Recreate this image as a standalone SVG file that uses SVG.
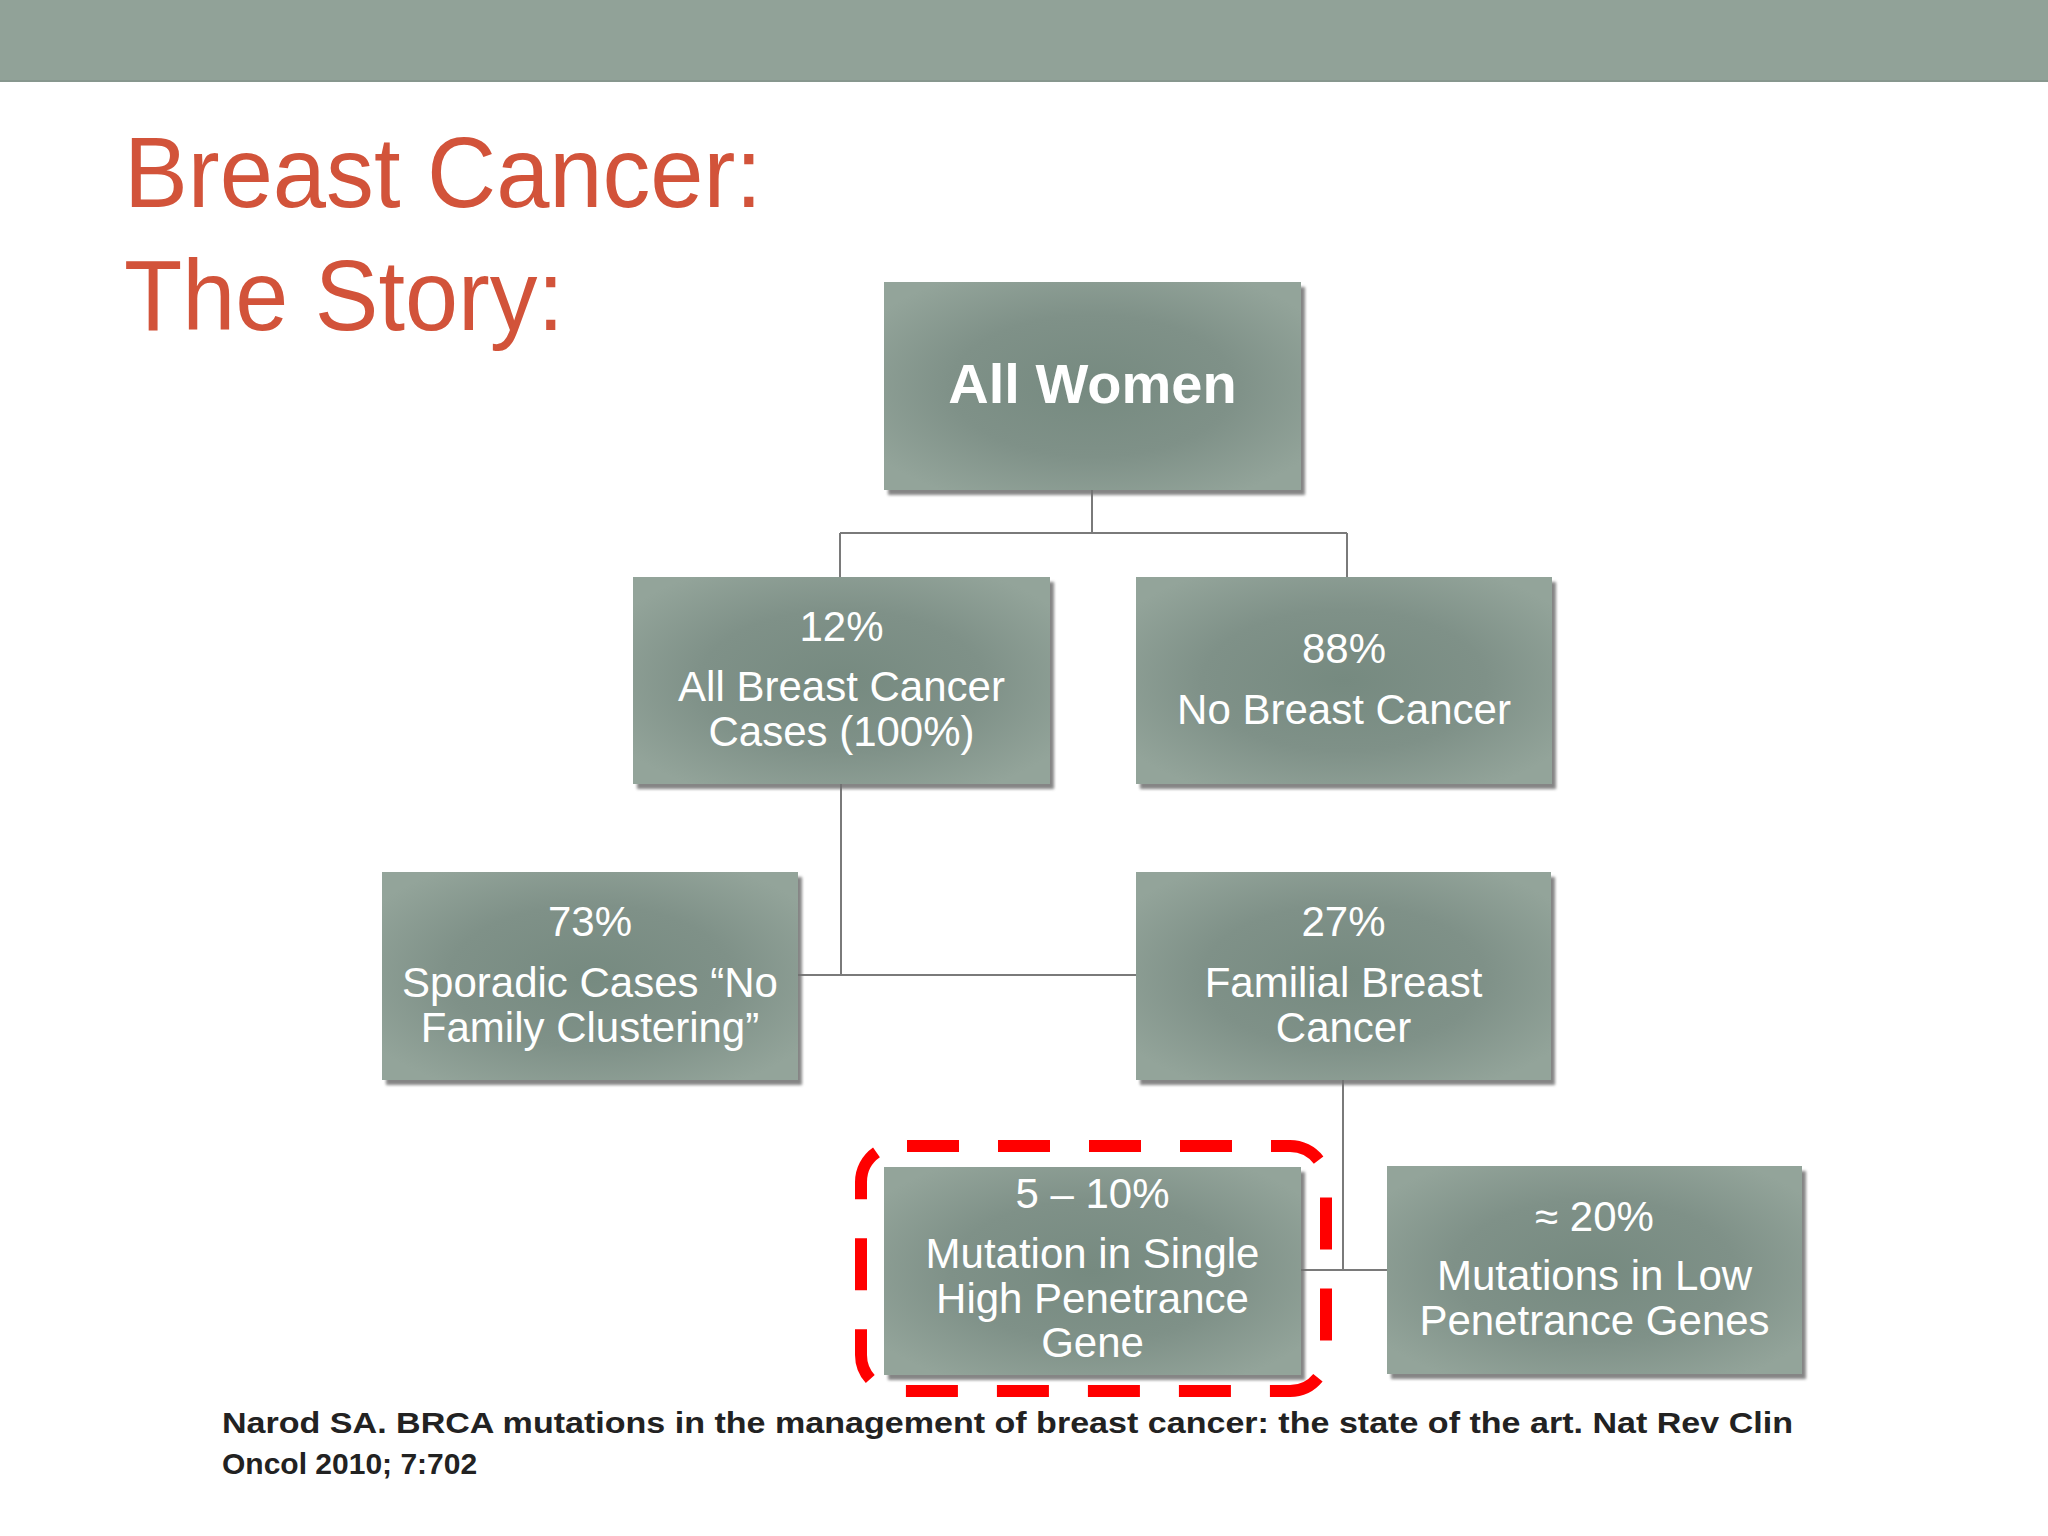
<svg xmlns="http://www.w3.org/2000/svg" width="2048" height="1536" viewBox="0 0 2048 1536">
  <defs>
    <radialGradient id="boxfill" cx="0.5" cy="0.5" r="0.62" fx="0.5" fy="0.5">
      <stop offset="0" stop-color="#768a80"/>
      <stop offset="0.55" stop-color="#7f9188"/>
      <stop offset="1" stop-color="#93a49a"/>
    </radialGradient>
    <filter id="soft" x="-10%" y="-10%" width="120%" height="120%">
      <feGaussianBlur stdDeviation="1.5"/>
    </filter>
  </defs>
  <style>
    .box { fill: url(#boxfill); }
    .shadow { fill: #6f6f6f; opacity: 0.85; filter: url(#soft); }
    .lbl { font-family: "Liberation Sans", Arial, sans-serif; font-size: 42px; fill: #ffffff; text-anchor: middle; }
    .big { font-family: "Liberation Sans", Arial, sans-serif; font-size: 56px; font-weight: bold; fill: #ffffff; text-anchor: middle; }
    .title { font-family: "Liberation Sans", Arial, sans-serif; font-size: 100px; fill: #d2533a; }
    .cite { font-family: "Liberation Sans", Arial, sans-serif; font-size: 30px; font-weight: bold; fill: #222222; }
    .conn { fill: none; stroke: #7a7a7a; stroke-width: 2; }
  </style>

  <rect x="0" y="0" width="2048" height="81" fill="#91a298"/>
  <rect x="0" y="80" width="2048" height="2" fill="#87978e"/>

  <text class="title" x="124" y="207" textLength="638" lengthAdjust="spacingAndGlyphs">Breast Cancer:</text>
  <text class="title" x="124" y="330" textLength="440" lengthAdjust="spacingAndGlyphs">The Story:</text>

  <g id="connectors">
    <path class="conn" d="M1092,490 V533 M840,533 H1347 M840,533 V577 M1347,533 V577"/>
    <path class="conn" d="M841,784 V975 M798,975 H1136"/>
    <path class="conn" d="M1343,1080 V1270 M1301,1270 H1387"/>
  </g>

  <g id="all-women">
    <rect class="shadow" x="888" y="287" width="417" height="208"/>
    <rect class="box" x="884" y="282" width="417" height="208"/>
    <text class="big" x="1092.5" y="403">All Women</text>
  </g>

  <g id="all-breast-cancer">
    <rect class="shadow" x="637" y="582" width="417" height="207"/>
    <rect class="box" x="633" y="577" width="417" height="207"/>
    <text class="lbl" x="841.5" y="641">12%</text>
    <text class="lbl" x="841.5" y="701">All Breast Cancer</text>
    <text class="lbl" x="841.5" y="746">Cases (100%)</text>
  </g>

  <g id="no-breast-cancer">
    <rect class="shadow" x="1140" y="582" width="416" height="207"/>
    <rect class="box" x="1136" y="577" width="416" height="207"/>
    <text class="lbl" x="1344" y="663">88%</text>
    <text class="lbl" x="1344" y="724">No Breast Cancer</text>
  </g>

  <g id="sporadic">
    <rect class="shadow" x="386" y="877" width="416" height="208"/>
    <rect class="box" x="382" y="872" width="416" height="208"/>
    <text class="lbl" x="590" y="936">73%</text>
    <text class="lbl" x="590" y="997">Sporadic Cases “No</text>
    <text class="lbl" x="590" y="1042">Family Clustering”</text>
  </g>

  <g id="familial">
    <rect class="shadow" x="1140" y="877" width="415" height="208"/>
    <rect class="box" x="1136" y="872" width="415" height="208"/>
    <text class="lbl" x="1343.5" y="936">27%</text>
    <text class="lbl" x="1343.5" y="997">Familial Breast</text>
    <text class="lbl" x="1343.5" y="1042">Cancer</text>
  </g>

  <g id="high-penetrance">
    <rect class="shadow" x="888" y="1172" width="417" height="208"/>
    <rect class="box" x="884" y="1167" width="417" height="208"/>
    <text class="lbl" x="1092.5" y="1208">5 – 10%</text>
    <text class="lbl" x="1092.5" y="1268">Mutation in Single</text>
    <text class="lbl" x="1092.5" y="1313">High Penetrance</text>
    <text class="lbl" x="1092.5" y="1357">Gene</text>
  </g>

  <g id="low-penetrance">
    <rect class="shadow" x="1391" y="1171" width="415" height="208"/>
    <rect class="box" x="1387" y="1166" width="415" height="208"/>
    <text class="lbl" x="1594.5" y="1231">≈ 20%</text>
    <text class="lbl" x="1594.5" y="1290">Mutations in Low</text>
    <text class="lbl" x="1594.5" y="1335">Penetrance Genes</text>
  </g>

  <g id="highlight">
    <rect x="861" y="1146" width="465" height="245" rx="36" ry="36" fill="none" stroke="#ff0000" stroke-width="12" stroke-dasharray="52 39" stroke-dashoffset="-10"/>
  </g>

  <text class="cite" x="222" y="1433" textLength="1571" lengthAdjust="spacingAndGlyphs">Narod SA. BRCA mutations in the management of breast cancer: the state of the art. Nat Rev Clin</text>
  <text class="cite" x="222" y="1474">Oncol 2010; 7:702</text>
</svg>
